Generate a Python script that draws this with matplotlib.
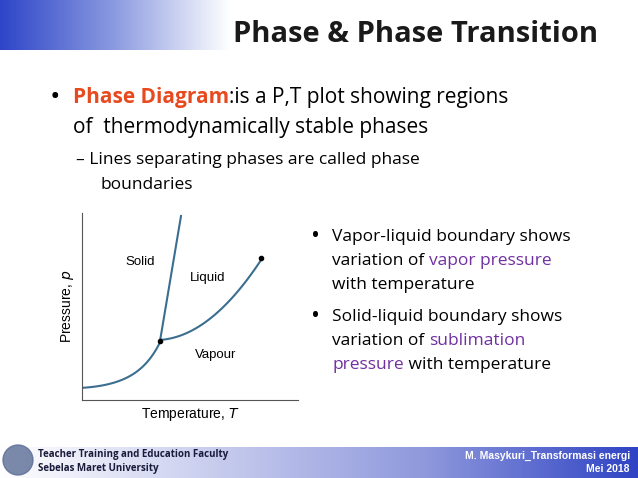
import matplotlib
matplotlib.use("Agg")
import matplotlib.pyplot as plt
import numpy as np
from matplotlib.colors import LinearSegmentedColormap

W, H = 638, 478
fig = plt.figure(figsize=(6.38, 4.78), dpi=100)

def fx(x): return x / W
def fy(y): return 1 - y / H

bg = fig.add_axes([0, 0, 1, 1]); bg.axis("off")
g = np.linspace(0, 1, 256)[None, :]
cm_top = LinearSegmentedColormap.from_list("t", ["#2e45c8", "#8c9be0", "#ffffff"])
bg.imshow(g, extent=[0, 230, 50, 0], cmap=cm_top, aspect="auto")
cm_bot = LinearSegmentedColormap.from_list("b", ["#ffffff", "#c8cdee", "#8f99dc", "#2f43c4"])
bg.imshow(g, extent=[0, W, 478, 447], cmap=cm_bot, aspect="auto")
bg.add_patch(plt.Circle((18, 460), 15, color="#5a6c95", alpha=0.8))
bg.set_xlim(0, W); bg.set_ylim(H, 0)

font = "Open Sans"
fig.text(fx(598), fy(34), "Phase & Phase Transition", ha="right", va="center",
         fontsize=21, fontweight="bold", color="#1a1a1a", family=font)

fig.text(fx(50), fy(98), "•", fontsize=20, va="center", family=font)
t = fig.text(fx(73), fy(98), "Phase Diagram", fontsize=15, va="center", color="#e84a1f",
             fontweight="bold", family=font)
fig.canvas.draw()
bb = t.get_window_extent()
fig.text(bb.x1 / W, fy(98), ":is a P,T plot showing regions", fontsize=15, va="center", family=font)
fig.text(fx(73), fy(128), "of  thermodynamically stable phases", fontsize=15, va="center", family=font)
fig.text(fx(76), fy(160), "– Lines separating phases are called phase", fontsize=12.5, va="center", family=font)
fig.text(fx(101), fy(185), "boundaries", fontsize=12.5, va="center", family=font)

purple = "#7030a0"
def line(y, parts, x=332):
    xx = x / W
    for s, c in parts:
        tt = fig.text(xx, fy(y), s, fontsize=12.5, va="center", color=c, family=font)
        fig.canvas.draw()
        xx = tt.get_window_extent().x1 / W
fig.text(fx(311), fy(237), "•", fontsize=17, va="center", family=font)
line(237, [("Vapor-liquid boundary shows", "k")])
line(261, [("variation of ", "k"), ("vapor pressure", purple)])
line(285, [("with temperature", "k")])
fig.text(fx(311), fy(317), "•", fontsize=17, va="center", family=font)
line(317, [("Solid-liquid boundary shows", "k")])
line(341, [("variation of ", "k"), ("sublimation", purple)])
line(365, [("pressure", purple), (" with temperature", "k")])

fig.text(fx(38), fy(455), "Teacher Training and Education Faculty", fontsize=7, fontweight="bold",
         va="center", color="#1a1a3a", family=font)
fig.text(fx(38), fy(468), "Sebelas Maret University", fontsize=7, fontweight="bold",
         va="center", color="#1a1a3a", family=font)
fig.text(fx(630), fy(456), "M. Masykuri_Transformasi energi", fontsize=7.5, fontweight="bold",
         ha="right", va="center", color="white", family="Liberation Sans")
fig.text(fx(630), fy(469), "Mei 2018", fontsize=7.5, fontweight="bold",
         ha="right", va="center", color="white", family="Liberation Sans")

# phase diagram data (arbitrary units)
subl_T = [0, 28, 51, 65, 78]
subl_P = [12, 17, 25, 37, 59]
vap_T = [78, 111, 145, 165, 179]
vap_P = [59, 73, 95, 118, 142]
fus_T = [78, 99]
fus_P = [59, 184]

ax = fig.add_axes([fx(82), fy(400), (298 - 82) / W, (400 - 213) / H])
ax.set_xlim(0, 216); ax.set_ylim(0, 187)
c = "#3b6e8f"
coef = np.polyfit(subl_T, np.log(subl_P), 2)
tt = np.linspace(subl_T[0], subl_T[-1], 80)
ax.plot(tt, np.exp(np.polyval(coef, tt)), color=c, lw=1.5)
coef = np.polyfit(vap_T, vap_P, 2)
tt = np.linspace(vap_T[0], vap_T[-1], 80)
ax.plot(tt, np.polyval(coef, tt), color=c, lw=1.5)
ax.plot(fus_T, fus_P, color=c, lw=1.5)
ax.plot([vap_T[0], vap_T[-1]], [vap_P[0], vap_P[-1]], "ko", ms=3)
for s in ["top", "right"]:
    ax.spines[s].set_visible(False)
ax.spines["left"].set_color("#555"); ax.spines["bottom"].set_color("#555")
ax.set_xticks([]); ax.set_yticks([])
ax.set_xlabel("Temperature, $T$", fontsize=10, family="Liberation Sans", labelpad=4)
ax.set_ylabel("Pressure, $p$", fontsize=10, family="Liberation Sans", labelpad=4)
ax.text(43, 138, "Solid", fontsize=9.5, family="Liberation Sans", va="center")
ax.text(108, 122, "Liquid", fontsize=9.5, family="Liberation Sans", va="center")
ax.text(113, 45, "Vapour", fontsize=9.5, family="Liberation Sans", va="center")

fig.savefig("out.png", dpi=100)
